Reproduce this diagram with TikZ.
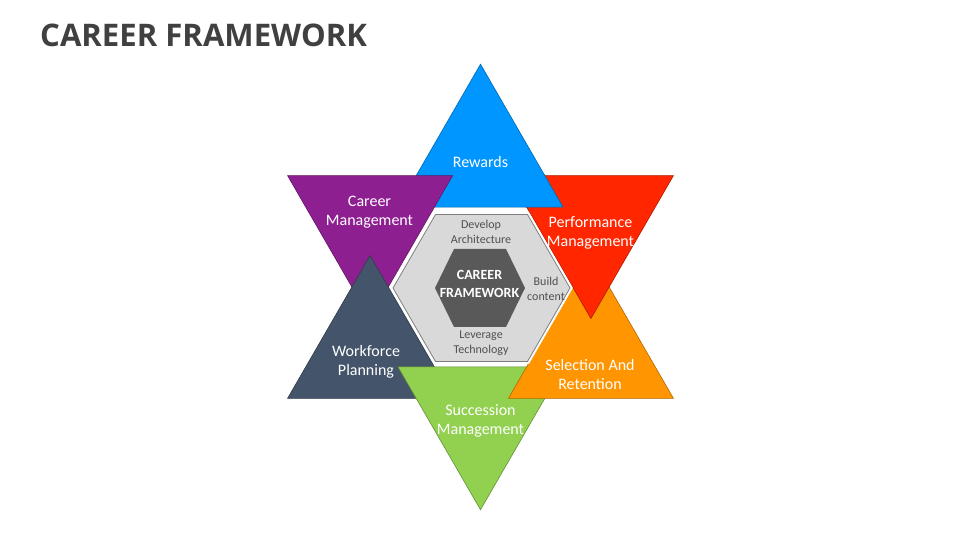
\documentclass[tikz,border=0pt]{standalone}
\usepackage{fontspec}
\setmainfont{Carlito}
\newfontfamily\titlefont{Open Sans}
\usetikzlibrary{calc}
\definecolor{cblue}{HTML}{0096FF}
\definecolor{cpurple}{HTML}{8E1F91}
\definecolor{cred}{HTML}{FF2600}
\definecolor{corange}{HTML}{FF9500}
\definecolor{cgreen}{HTML}{92D050}
\definecolor{cslate}{HTML}{44546A}
\definecolor{hexfill}{HTML}{D9D9D9}
\definecolor{hexline}{HTML}{7F7F7F}
\definecolor{hexdark}{HTML}{595959}
\definecolor{titlecol}{HTML}{404040}
\definecolor{subtext}{HTML}{505050}
\newcommand\uptri[1]{($(#1)+(90:95.26)$) -- ($(#1)+(210:95.26)$) -- ($(#1)+(330:95.26)$) -- cycle}
\newcommand\dntri[1]{($(#1)+(270:95.26)$) -- ($(#1)+(30:95.26)$) -- ($(#1)+(150:95.26)$) -- cycle}
\tikzset{
  tri/.style={draw=#1!70!black, fill=#1, line width=0.6pt, line join=miter},
  shd/.style={fill=black, opacity=0.10},
  lbl/.style={text=white, font=\fontsize{16}{19}\selectfont, align=center, inner sep=0pt},
  sub/.style={text=subtext, font=\fontsize{12}{15}\selectfont, align=center, inner sep=0pt},
  core/.style={text=white, font=\bfseries\fontsize{14}{18}\selectfont, align=center, inner sep=0pt},
}
\begin{document}
\begin{tikzpicture}[x=1pt,y=1pt]
\useasboundingbox (0,0) rectangle (960,540);
\fill[white] (0,0) rectangle (960,540);
% title
\node[anchor=base west, inner sep=0pt, text=titlecol, font=\titlefont\bfseries\fontsize{31.1}{36}\selectfont] (title) at (40,493) {CAREER FRAMEWORK};
% triangle centroids
\coordinate (cB) at (480.5,380.5);
\coordinate (cG) at (480.5,125.5);
\coordinate (cP) at (370.08,316.75);
\coordinate (cR) at (590.92,316.75);
\coordinate (cS) at (370.08,189.25);
\coordinate (cO) at (590.92,189.25);
% shadows
\begin{scope}[shift={(-1.5,-2.5)}]
  \fill[shd] \uptri{cB};
  \fill[shd] \dntri{cP};
  \fill[shd] \uptri{cS};
  \fill[shd] \dntri{cG};
  \fill[shd] \uptri{cO};
  \fill[shd] \dntri{cR};
\end{scope}
% triangles in cyclic order
\filldraw[tri=cblue] \uptri{cB};
\filldraw[tri=cpurple] \dntri{cP};
\filldraw[tri=cslate] \uptri{cS};
\filldraw[tri=cgreen] \dntri{cG};
\filldraw[tri=corange] \uptri{cO};
\filldraw[tri=cred] \dntri{cR};
\begin{scope}
  \clip ($(cR)+(270:97)$) -- ($(cR)+(30:97)$) -- ($(cR)+(150:97)$) -- cycle;
  \filldraw[tri=cblue] \uptri{cB};
\end{scope}
% hexagon
\coordinate (hc) at (481.5,252);
\fill[black, opacity=0.12] ($(hc)+(-88.5,-2)$) -- ($(hc)+(-46,-75.5)$) -- ($(hc)+(46,-75.5)$) -- ($(hc)+(88.5,-2)$) -- ($(hc)+(46,71.5)$) -- ($(hc)+(-46,71.5)$) -- cycle;
\draw[white, line width=5pt, line join=miter] ($(hc)+(-88.5,0)$) -- ($(hc)+(-46,-73.5)$) -- ($(hc)+(46,-73.5)$) -- ($(hc)+(88.5,0)$) -- ($(hc)+(46,73.5)$) -- ($(hc)+(-46,73.5)$) -- cycle;
\filldraw[fill=hexfill, draw=hexline, line width=0.8pt] ($(hc)+(-88.5,0)$) -- ($(hc)+(-46,-73.5)$) -- ($(hc)+(46,-73.5)$) -- ($(hc)+(88.5,0)$) -- ($(hc)+(46,73.5)$) -- ($(hc)+(-46,73.5)$) -- cycle;
\coordinate (ic) at (480,252);
\fill[hexdark] ($(ic)+(-45,0)$) -- ($(ic)+(-26,-39)$) -- ($(ic)+(26,-39)$) -- ($(ic)+(45,0)$) -- ($(ic)+(26,39)$) -- ($(ic)+(-26,39)$) -- cycle;
% labels
\node[lbl] (rewards) at (480.5,377.5) {Rewards};
\node[lbl] (career) at (369.5,327.5) {Career\\Management};
\node[lbl] (perf) at (590.5,307.5) {Performance\\Management};
\node[lbl] (work) at (366,178.5) {Workforce\\Planning};
\node[lbl] (sel) at (590,165) {Selection And\\Retention};
\node[lbl] (succ) at (480.5,119.5) {Succession\\Management};
\node[sub] (dev) at (481,308.5) {Develop\\Architecture};
\node[sub] (build) at (546,251) {Build\\content};
\node[sub] (lev) at (481,196.5) {Leverage\\Technology};
\node[core] (cf) at (479.5,256) {CAREER\\FRAMEWORK};
\end{tikzpicture}
\end{document}
